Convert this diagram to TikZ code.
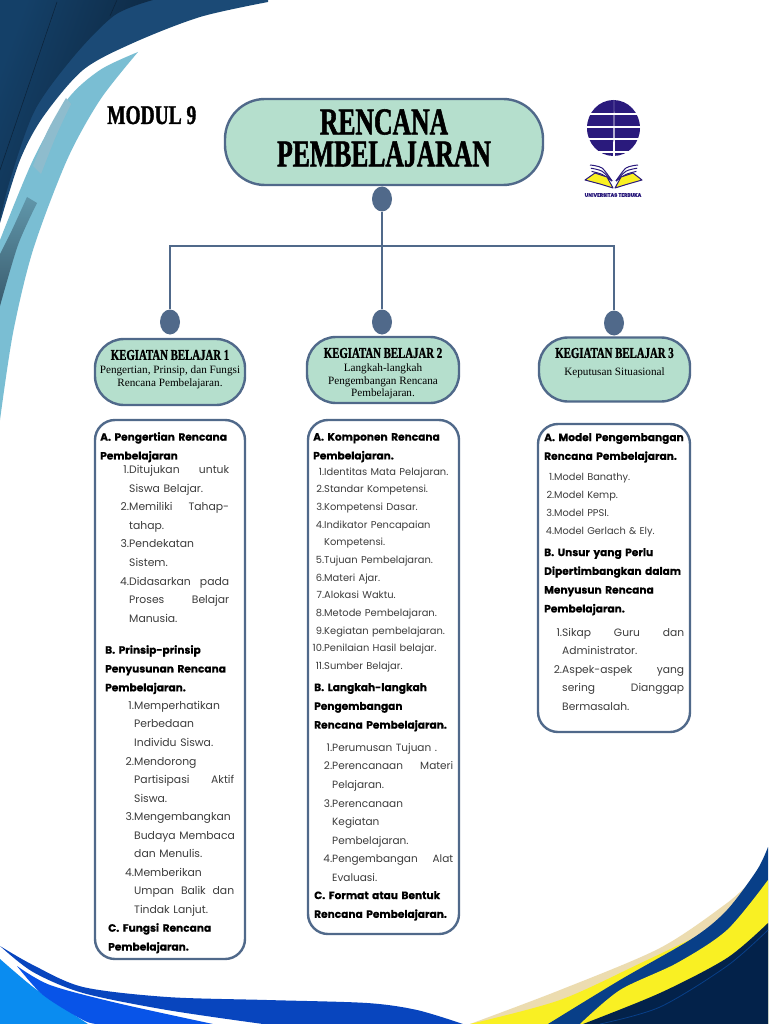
\documentclass[tikz,border=0pt]{standalone}
\usepackage{fontspec}
\setmainfont[BoldFeatures={FakeBold=0.5}]{Poppins}
\newfontfamily\titlefont[FakeStretch=0.72,FakeBold=1.2]{Liberation Serif}
\newfontfamily\rootfont[FakeStretch=0.675,FakeBold=1.4]{Liberation Serif}
\newfontfamily\subfont{Liberation Serif}
\usetikzlibrary{shapes.geometric, positioning}
\definecolor{cMint}{RGB}{181, 223, 205}
\definecolor{bSlate}{RGB}{80, 105, 138}
\definecolor{tBody}{RGB}{60, 60, 60}
\definecolor{cNavyA}{RGB}{27, 74, 118}
\definecolor{cNavyB}{RGB}{12, 34, 56}
\definecolor{cNavyC}{RGB}{20, 64, 104}
\definecolor{cSwoosh}{RGB}{122, 190, 211}
\definecolor{cHatch}{RGB}{142, 188, 205}
\definecolor{cHatchD}{RGB}{58, 92, 110}
\definecolor{cWaveA}{RGB}{8, 69, 190}
\definecolor{cWaveB}{RGB}{8, 84, 232}
\definecolor{cWaveC}{RGB}{10, 140, 240}
\definecolor{cBeige}{RGB}{236, 220, 176}
\definecolor{cYellow}{RGB}{249, 240, 35}
\definecolor{cBand}{RGB}{8, 63, 136}
\definecolor{cDeep}{RGB}{3, 34, 74}
\definecolor{cLogo}{RGB}{42, 26, 124}
\newcommand{\jln}[2]{\makebox[#1pt][s]{#2}}
\newcommand{\num}[1]{\leavevmode\llap{#1}}

\begin{document}
\begin{tikzpicture}[
    x=1pt, y=-1pt,
    panel/.style={
        draw=bSlate,
        line width=2.4pt,
        fill=#1,
        inner sep=0pt
    },
    dot/.style={
        ellipse,
        fill=bSlate,
        minimum width=20pt,
        minimum height=25pt,
        inner sep=0pt
    },
    branch/.style={draw=bSlate, line width=2.4pt},
    kbtitle/.style={inner sep=0pt, font=\titlefont\bfseries\fontsize{15}{15}\selectfont},
    kbsub/.style={inner sep=0pt, align=center, font=\subfont\fontsize{11.2}{12.8}\selectfont},
    headtxt/.style={
        anchor=north west,
        inner sep=0pt,
        text width=150pt,
        align=left,
        font=\bfseries\fontsize{10.6}{18.8}\selectfont
    },
    listtxt/.style={
        anchor=north west,
        inner sep=0pt,
        text width=#1,
        align=left,
        text=tBody
    }
]
\useasboundingbox (0,0) rectangle (768,1024);
\fill[white] (0,0) rectangle (768,1024);

% top left corner
\fill[cNavyA] (0,0) -- (268,0) -- plot[smooth] coordinates {(268,2) (200,17) (133,43) (83,70) (43,117) (20,160) (0,223)} -- cycle;
\shade[left color=cNavyC, right color=cNavyB, shading angle=70] (0,0) -- plot[smooth] coordinates {(153,0) (115,15) (75,55) (35,110) (10,180) (0,220)} -- cycle;
\draw[cNavyB, line width=0.5pt] (57,2) -- (0,170);
\draw[cNavyB, line width=0.5pt] (117,0) -- (110,16);
\fill[cSwoosh] plot[smooth] coordinates {(138,52) (100,70) (67,100) (33,160) (0,240)} -- (0,420) -- plot[smooth] coordinates {(0,420) (13,333) (33,250) (67,160) (100,100) (138,52)} -- cycle;
\fill[cHatch] plot[smooth] coordinates {(66,98) (48,130) (33,166)} -- plot[smooth] coordinates {(41,174) (56,136) (71,104)} -- cycle;
\shade[top color=cSwoosh!60!cHatchD, bottom color=cHatchD] plot[smooth] coordinates {(27,197) (12,230) (0,254)} -- plot[smooth] coordinates {(0,306) (18,245) (37,203)} -- cycle;

% bottom left waves
\fill[cWaveC] plot[smooth] coordinates {(0,959) (33,987) (67,1010) (88,1024)} -- (0,1024) -- cycle;
\fill[cWaveB] plot[smooth] coordinates {(17,966) (50,985) (117,1003) (213,1024)} -- plot[smooth] coordinates {(97,1024) (83,1020) (43,995) (17,966)} -- cycle;
\fill[cWaveA] plot[smooth] coordinates {(0,946) (33,965) (83,987) (167,997) (267,1000) (367,1003) (417,1010) (463,1024)} -- plot[smooth] coordinates {(263,1024) (167,1010) (83,993) (33,972) (0,946)} -- cycle;

% bottom right waves
\fill[cBeige] plot[smooth] coordinates {(470,1024) (560,990) (660,948) (727,903) (752,880)} -- (768,1024) -- cycle;
\fill[cYellow] plot[smooth] coordinates {(470,1024) (560,1000) (643,962) (710,930)} -- (768,1024) -- cycle;
\fill[cBand] plot[smooth] coordinates {(768,847) (757,870) (727,910) (693,938) (620,980) (548,1024)} -- (768,1024) -- cycle;
\fill[cYellow] plot[smooth] coordinates {(768,880) (727,930) (677,963) (620,990) (580,1024)} -- (768,1024) -- cycle;
\fill[cDeep] plot[smooth] coordinates {(768,923) (727,958) (660,993) (583,1024)} -- (768,1024) -- cycle;
\draw[cBand, line width=0.8pt] plot[smooth] coordinates {(768,930) (727,966) (660,1007) (600,1024)};

% logo
\fill[cLogo] (613.5,128) ellipse [x radius=26.5pt, y radius=28pt];
\foreach \yy in {114,127,139,152} {
    \fill[white] (585,\yy-1) rectangle (642,\yy+1);
}
\fill[white] (586,165) rectangle (642,190);
\fill[white] (614,98) -- (615.5,184) -- (612.5,184) -- cycle;
\foreach \dd in {0,4,8} {
    \draw[cLogo, line width=1pt] plot[smooth] coordinates {(590+\dd*0.2,165+\dd*0.8) (602,168+\dd*0.8) (612,181)};
    \draw[cLogo, line width=1pt] plot[smooth] coordinates {(638-\dd*0.2,165+\dd*0.8) (626,168+\dd*0.8) (616,181)};
}
\draw[cLogo, line width=1pt, fill=cYellow, line join=round] (585,180) -- (595,173) -- (607,177) -- (613,188) -- (600,184) -- cycle;
\draw[cLogo, line width=1pt, fill=cYellow, line join=round] (642,180) -- (633,173) -- (621,177) -- (615,188) -- (628,184) -- cycle;
\node[inner sep=0pt, text=cLogo, font=\bfseries\fontsize{5}{6}\selectfont] (ut) at (613,195) {UNIVERSITAS TERBUKA};

\node[anchor=base west, inner sep=0pt, font=\titlefont\bfseries\fontsize{27}{27}\selectfont] (modul) at (107,124) {MODUL 9};

\node[panel=cMint, rounded corners=40pt, minimum width=318pt, minimum height=86pt] (root) at (384,142) {};
\node[inner sep=0pt, align=center, font=\rootfont\bfseries\fontsize{38}{32}\selectfont] (roottxt) at (384,138) {RENCANA\\PEMBELAJARAN};

\node[dot] (dot0) at (382,199) {};
\node[dot] (dot1) at (170,322) {};
\node[dot] (dot2) at (382,322) {};
\node[dot] (dot3) at (614,323) {};
\coordinate (hubL) at (170,246);
\coordinate (hubR) at (614,246);

\draw[branch] (dot0) -- (dot2);
\draw[branch] (dot1) -- (hubL) -- (hubR) -- (dot3);

% three activities
\node[panel=cMint, rounded corners=29pt, minimum width=150pt, minimum height=66pt] (kb1) at (170,372) {};
\node[kbtitle] (kb1t) at (170,355) {KEGIATAN BELAJAR 1};
\node[kbsub] (kb1s) at (170,377.5) {Pengertian, Prinsip, dan Fungsi\\Rencana Pembelajaran.};

\node[panel=cMint, rounded corners=29pt, minimum width=152pt, minimum height=66pt] (kb2) at (383,370) {};
\node[kbtitle] (kb2t) at (383,353) {KEGIATAN BELAJAR 2};
\node[kbsub] (kb2s) at (383,381.5) {Langkah-langkah\\Pengembangan Rencana\\Pembelajaran.};

\node[panel=cMint, rounded corners=29pt, minimum width=151pt, minimum height=64pt] (kb3) at (614.5,369.5) {};
\node[kbtitle] (kb3t) at (614.5,353) {KEGIATAN BELAJAR 3};
\node[kbsub] (kb3s) at (614.5,373) {Keputusan Situasional};

\node[panel=white, rounded corners=20pt, minimum width=150pt, minimum height=539pt] (box1) at (170,689.5) {};
\node[panel=white, rounded corners=20pt, minimum width=151pt, minimum height=514pt] (box2) at (383.5,677) {};
\node[panel=white, rounded corners=20pt, minimum width=152pt, minimum height=308pt] (box3) at (614,578) {};

% box 1
\node[headtxt] (h1a) at (100,432) {A. Pengertian Rencana\\Pembelajaran};
\node[listtxt=110pt, font=\fontsize{10.8}{18.6}\selectfont] (l1a) at (129,465) {
    \num{1.}\jln{100}{Ditujukan\hfill untuk}\\
    Siswa Belajar.\\
    \num{2.}\jln{100}{Memiliki\hfill Tahap-}\\
    tahap.\\
    \num{3.}Pendekatan\\
    Sistem.\\
    \num{4.}\jln{100}{Didasarkan\hfill pada}\\
    \jln{100}{Proses\hfill Belajar}\\
    Manusia.
};
\node[headtxt] (h1b) at (105,645) {B. Prinsip-prinsip\\Penyusunan Rencana\\Pembelajaran.};
\node[listtxt=110pt, font=\fontsize{10.8}{18.55}\selectfont] (l1b) at (134,701) {
    \num{1.}Memperhatikan\\
    Perbedaan\\
    Individu Siswa.\\
    \num{2.}Mendorong\\
    \jln{100}{Partisipasi\hfill Aktif}\\
    Siswa.\\
    \num{3.}Mengembangkan\\
    \jln{100}{Budaya Membaca}\\
    dan Menulis.\\
    \num{4.}Memberikan\\
    \jln{100}{Umpan\hfill Balik\hfill dan}\\
    Tindak Lanjut.
};
\node[headtxt] (h1c) at (108,923) {C. Fungsi Rencana\\Pembelajaran.};

% box 2
\node[headtxt] (h2a) at (313,433) {A. Komponen Rencana\\Pembelajaran.};
\node[listtxt=135pt, font=\fontsize{9.9}{17.65}\selectfont] (l2a) at (324,467.5) {
    \num{1.}Identitas Mata Pelajaran.\\
    \num{2.}Standar Kompetensi.\\
    \num{3.}Kompetensi Dasar.\\
    \num{4.}Indikator Pencapaian\\
    Kompetensi.\\
    \num{5.}Tujuan Pembelajaran.\\
    \num{6.}Materi Ajar.\\
    \num{7.}Alokasi Waktu.\\
    \num{8.}Metode Pembelajaran.\\
    \num{9.}Kegiatan pembelajaran.\\
    \num{10.}Penilaian Hasil belajar.\\
    \num{11.}Sumber Belajar.
};
\node[headtxt] (h2b) at (314,683) {B. Langkah-langkah\\Pengembangan\\Rencana Pembelajaran.};
\node[listtxt=125pt, font=\fontsize{10.5}{18.6}\selectfont] (l2b) at (332,743) {
    \num{1.}Perumusan Tujuan .\\
    \num{2.}\jln{121}{Perencanaan\hfill Materi}\\
    Pelajaran.\\
    \num{3.}Perencanaan\\
    Kegiatan\\
    Pembelajaran.\\
    \num{4.}\jln{121}{Pengembangan\hfill Alat}\\
    Evaluasi.
};
\node[headtxt] (h2c) at (314,891) {C. Format atau Bentuk\\Rencana Pembelajaran.};

% box 3
\node[headtxt] (h3a) at (544,433) {A. Model Pengembangan\\Rencana Pembelajaran.};
\node[listtxt=130pt, font=\fontsize{9.8}{18}\selectfont] (l3a) at (554,473.5) {
    \num{1.}Model Banathy.\\
    \num{2.}Model Kemp.\\
    \num{3.}Model PPSI.\\
    \num{4.}Model Gerlach \& Ely.
};
\node[headtxt] (h3b) at (544,548) {B. Unsur yang Perlu\\Dipertimbangkan dalam\\Menyusun Rencana\\Pembelajaran.};
\node[listtxt=125pt, font=\fontsize{10.7}{18.5}\selectfont] (l3b) at (562,628) {
    \num{1.}\jln{122}{Sikap\hfill Guru\hfill dan}\\
    Administrator.\\
    \num{2.}\jln{122}{Aspek-aspek\hfill yang}\\
    \jln{122}{sering\hfill Dianggap}\\
    Bermasalah.
};

\end{tikzpicture}
\end{document}
